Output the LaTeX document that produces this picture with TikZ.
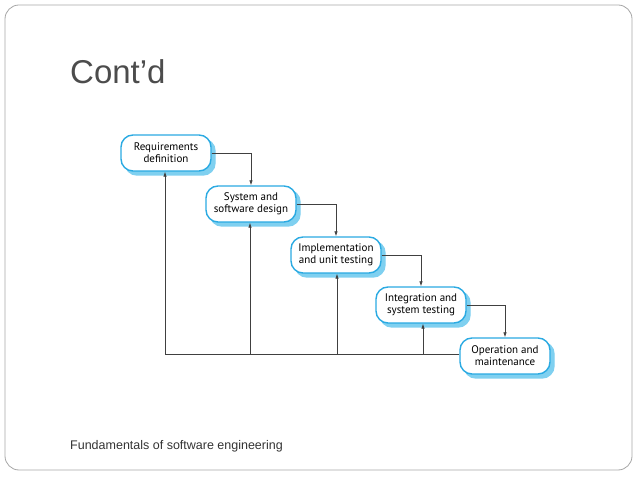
\documentclass[tikz,border=0pt]{standalone}
\usepackage{fontspec}
\setmainfont{Liberation Sans}
\newfontfamily\boxfont{PT Sans}
\usetikzlibrary{arrows.meta}
\definecolor{cy}{HTML}{2BAAE2}
\definecolor{sh}{HTML}{7FD0F0}
\tikzset{
 x=1pt,y=-1pt,
 stage/.style={draw=cy,line width=1.4pt,fill=white,rounded corners=12pt,minimum width=90pt,minimum height=36pt,align=center,font=\boxfont\fontsize{11}{12}\selectfont,inner sep=2pt,
   preaction={fill=sh,draw=sh,transform canvas={xshift=4pt,yshift=-4pt}}},
 con/.style={draw=black!75,line width=0.7pt,-{Latex[length=5pt,width=3.5pt]}},
 ln/.style={draw=black!75,line width=0.7pt}
}
\begin{document}
\begin{tikzpicture}
\useasboundingbox (0,0) rectangle (638,478);
\draw[black!35,line width=0.8pt,rounded corners=14pt] (5,5) rectangle (632,470);
\node[anchor=base west,font=\fontsize{33}{36}\selectfont,text=black!70,inner sep=0] (t) at (70,84) {Cont’d};
\node[anchor=base west,font=\fontsize{12.5}{14}\selectfont,text=black!80,inner sep=0] (f) at (70,450) {Fundamentals of software engineering};
\node[stage] (a) at (166,153) {Requirements\\definition};
\node[stage] (b) at (251,204) {System and\\software design};
\node[stage] (c) at (336,255) {Implementation\\and unit testing};
\node[stage] (d) at (421,305) {Integration and\\system testing};
\node[stage] (e) at (505,356) {Operation and\\maintenance};
\draw[con] (a.east) -| (b.north);
\draw[con] (b.east) -| (c.north);
\draw[con] (c.east) -| (d.north);
\draw[con] (d.east) -| (e.north);
\coordinate (p1) at (165,354);
\coordinate (p2) at (250,354);
\coordinate (p3) at (337,354);
\coordinate (p4) at (423,354);
\draw[ln] (e.west |- p1) -- (p1);
\draw[con] (p1) -- (p1 |- a.south);
\draw[con] (p2) -- (p2 |- b.south);
\draw[con] (p3) -- (p3 |- c.south);
\draw[con] (p4) -- (p4 |- d.south);
\end{tikzpicture}
\end{document}
